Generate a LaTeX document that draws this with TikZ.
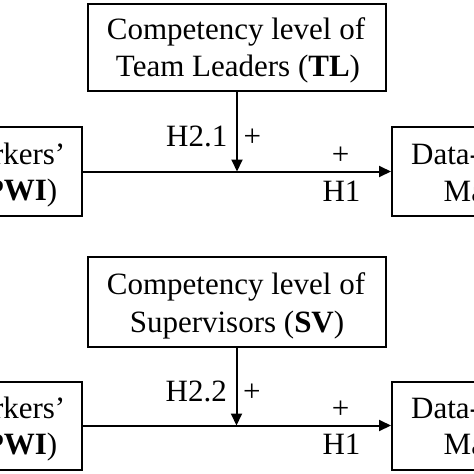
\documentclass[tikz,border=0pt]{standalone}
\usepackage{fontspec}
\setmainfont{Liberation Serif}
\usetikzlibrary{arrows.meta}
\begin{document}
\begin{tikzpicture}[x=1pt,y=-1pt]
\tikzset{
  box/.style={draw=black, line width=2pt, inner sep=0pt},
  txt/.style={inner sep=0pt, anchor=base, font=\fontsize{31}{37}\selectfont},
  lbl/.style={inner sep=0pt, font=\fontsize{31}{37}\selectfont},
  arr/.style={line width=2pt, -{Triangle[length=12pt,width=11pt]}}
}
\useasboundingbox (0,0) rectangle (474,474);
\clip (0,0) rectangle (474,474);
\fill[white] (0,0) rectangle (474,474);
% ---------- top model ----------
\node[box, minimum width=298pt, minimum height=87pt] (tl) at (237,47.5) {};
\node[txt] (tla) at (236,39) {Competency level of};
\node[txt] (tlb) at (238,76) {Team Leaders (\textbf{TL})};
\node[box, minimum width=200pt, minimum height=89pt] (pwa) at (-18,171.5) {};
\node[txt, anchor=base east] (pwa1) at (65.5,164) {Workers’};
\node[txt, anchor=base east] (pwa2) at (57.5,200) {(\textbf{PWI})};
\node[box, minimum width=200pt, minimum height=89pt] (dma) at (492,171.5) {};
\node[txt, anchor=base west] (dma1) at (411,164) {Data-driven};
\node[txt, anchor=base west] (dma2) at (443.5,201) {Making};
\coordinate (ja) at (tl.south |- pwa.east);
\draw[arr] (pwa.east) -- (dma.west);
\draw[arr] (tl.south) -- (ja);
\node[lbl, anchor=base east] (h21) at (227.5,146.5) {H2.1};
\node[lbl, anchor=base west] (p21) at (243.5,146.5) {+};
\node[lbl, anchor=base] (pa) at (340.5,164.5) {+};
\node[lbl, anchor=base] (h1a) at (341.5,201) {H1};
% ---------- bottom model ----------
\node[box, minimum width=298pt, minimum height=90pt] (sv) at (236.5,301.5) {};
\node[txt] (sva) at (236,294) {Competency level of};
\node[txt] (svb) at (237,332) {Supervisors (\textbf{SV})};
\node[box, minimum width=200pt, minimum height=88pt] (pwb) at (-18,425.5) {};
\node[txt, anchor=base east] (pwb1) at (65.5,418) {Workers’};
\node[txt, anchor=base east] (pwb2) at (57.5,454) {(\textbf{PWI})};
\node[box, minimum width=200pt, minimum height=88pt] (dmb) at (492,425.5) {};
\node[txt, anchor=base west] (dmb1) at (411,418) {Data-driven};
\node[txt, anchor=base west] (dmb2) at (443.5,454) {Making};
\coordinate (jb) at (sv.south |- pwb.east);
\draw[arr] (pwb.east) -- (dmb.west);
\draw[arr] (sv.south) -- (jb);
\node[lbl, anchor=base east] (h22) at (227,401) {H2.2};
\node[lbl, anchor=base west] (p22) at (243,401) {+};
\node[lbl, anchor=base] (pb) at (340.5,418.5) {+};
\node[lbl, anchor=base] (h1b) at (341.5,454) {H1};
\end{tikzpicture}
\end{document}
